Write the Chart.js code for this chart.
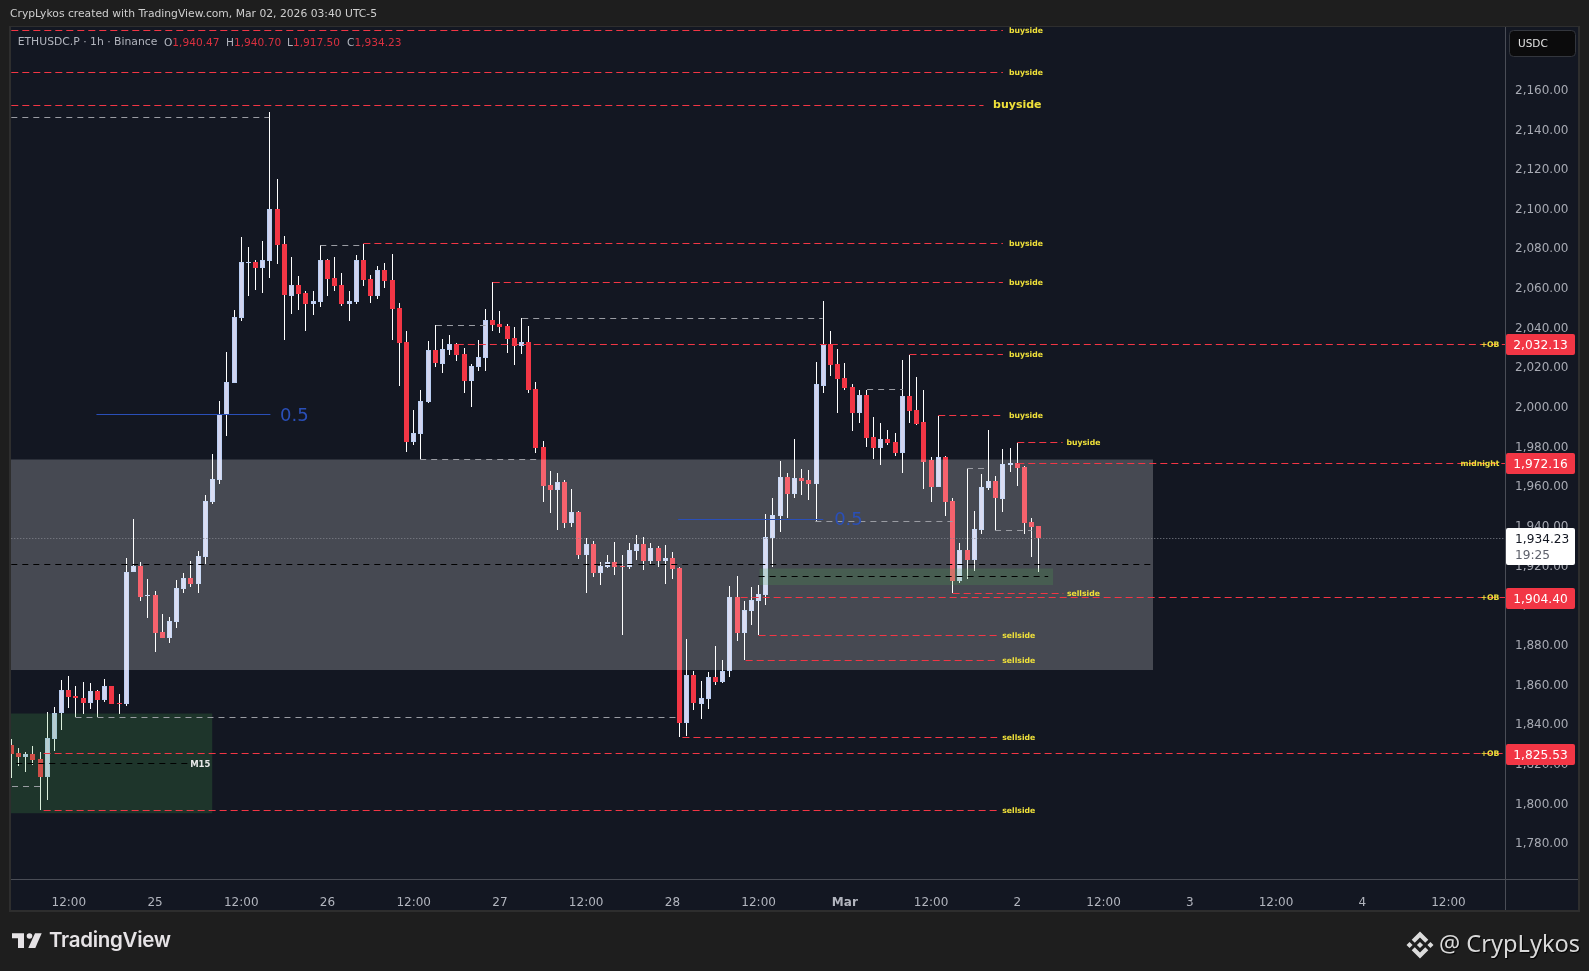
<!DOCTYPE html>
<html><head><meta charset="utf-8">
<style>
html,body{margin:0;padding:0;background:#1e1e1e;width:1589px;height:971px;overflow:hidden}
canvas{position:absolute;left:0;top:0}
.t{position:absolute;white-space:pre;font-family:"DejaVu Sans",sans-serif;line-height:1}
.lg{font-size:10.6px;top:37px}
.g{color:#b2b5be}.r{color:#d9303f}
svg{position:absolute;left:0;top:0}
</style>
<script src="https://cdn.jsdelivr.net/npm/chart.js@4/dist/chart.umd.min.js"></script>
</head><body>
<canvas id="c" width="1589" height="971"></canvas>
<svg width="1589" height="971" style="pointer-events:none">
<g fill="#e6e3e6"><polygon points="12,933.3 24,933.3 24,948 18,948 18,938.3 12,938.3"/><circle cx="29.5" cy="936" r="2.8"/><polygon points="35,933.3 41.7,933.3 35.3,948 28.3,948"/></g>
<g transform="translate(1406.5,931.5) scale(0.2132)" fill="#dcdcdc"><path d="M38.73 53.2l24.59-24.58 24.6 24.6 14.3-14.31L63.32 0 24.43 38.9zM0 63.31l14.3-14.31 14.31 14.31-14.31 14.3zM38.73 73.41l24.59 24.59 24.6-24.6 14.31 14.29-38.9 38.91-38.9-38.88zM98 63.31l14.3-14.31 14.31 14.3-14.31 14.3zM77.83 63.3L63.32 48.78 52.59 59.51l-1.24 1.23-2.54 2.54 14.51 14.5 14.51-14.47z"/></g>
</svg>
<div class="t" style="left:10px;top:9px;font-size:10.75px;color:#cfcfcf">CrypLykos created with TradingView.com, Mar 02, 2026 03:40 UTC-5</div>
<div class="t lg g" style="left:17.7px;font-size:10.8px">ETHUSDC.P · 1h · Binance</div>
<div class="t lg g" style="left:164px">O<span class="r">1,940.47</span></div>
<div class="t lg g" style="left:226px">H<span class="r">1,940.70</span></div>
<div class="t lg g" style="left:287px">L<span class="r">1,917.50</span></div>
<div class="t lg g" style="left:347px">C<span class="r">1,934.23</span></div>
<div class="t" style="left:49px;top:930px;font-family:Inter,sans-serif;font-weight:600;font-size:20.5px;letter-spacing:-0.3px;color:#e6e3e6">TradingView</div>
<div class="t" style="left:1439px;top:932px;font-family:'Noto Sans',sans-serif;font-size:23.6px;color:#d9d9d9;text-shadow:1px 1px 1px #000">@ CrypLykos</div>
<script>
// Candles: one per hour, index 0 = Feb 24 04:00 (hour -8 from Feb 24 12:00)
const firstHour = -8;
const open = [1830.0,1826.0,1824.0,1825.5,1823.0,1813.9,1833.1,1846.2,1857.8,1854.8,1853.7,1851.2,1857.3,1852.7,1859.8,1851.2,1850.7,1917.3,1920.3,1905.2,1905.7,1887.0,1884.0,1892.1,1908.7,1914.3,1911.2,1924.9,1952.6,1963.7,
1996.4,2012.6,2045.4,2073.1,2073.6,2070.6,2074.1,2100.3,2082.7,2056.5,2062.0,2058.0,2052.4,2053.4,2074.6,2065.5,2062.0,2052.4,2053.4,2074.6,2065.0,2056.5,2069.6,2064.5,2050.4,
2033.3,1982.9,1986.9,2003.0,2029.3,2022.2,2029.3,2032.3,2027.2,2013.6,2020.7,2025.2,2044.4,2042.4,2041.4,2035.3,2031.3,2033.3,2009.6,1980.3,1961.2,1958.7,1962.7,1942.0,1947.6,1925.9,1931.4,1916.8,1919.8,1922.3,1920.3,1919.8,1927.9,1931.4,1922.8,1929.4,1922.8,1924.4,
1919.3,1841.1,1865.4,1850.7,1853.3,1864.4,1861.8,1867.4,1904.7,1886.5,1897.6,1902.7,1905.7,1934.5,1945.5,1965.2,1956.6,1964.7,1963.7,1961.7,2011.1,2032.3,2022.2,2015.1,2010.6,1997.5,2006.5,1985.4,1979.8,1984.4,1982.8,1977.3,2006.0,1999.0,1992.9,1973.8,1960.2,1975.3,1953.1,1912.8,1928.4,1923.4,1938.5,1959.7,1963.2,1954.1,1971.3,1972.3,1970.2,1942.5,1940.47];
const high = [1833.1,1828.5,1826.5,1829.5,1826.5,1846.7,1849.2,1862.8,1864.8,1859.8,1861.8,1861.3,1857.8,1863.3,1859.8,1855.8,1924.4,1944.0,1922.3,1913.8,1907.7,1896.1,1894.6,1913.3,1916.8,1922.8,1927.9,1956.1,1976.8,2003.5,
2028.2,2049.4,2086.2,2081.2,2074.6,2084.2,2149.2,2115.5,2086.7,2076.1,2066.5,2059.0,2059.0,2082.2,2075.1,2076.1,2068.1,2059.0,2077.1,2082.7,2067.0,2071.6,2073.1,2077.6,2052.9,
2038.8,1999.0,2009.1,2033.8,2041.9,2034.8,2036.8,2032.8,2030.3,2022.2,2034.3,2049.9,2063.4,2048.9,2042.4,2040.9,2045.2,2041.4,2013.1,1983.4,1968.2,1967.2,1963.7,1959.2,1948.1,1934.4,1932.9,1922.3,1925.9,1932.4,1925.9,1931.9,1936.0,1934.9,1931.9,1930.4,1930.9,1927.4,
1919.8,1883.5,1867.4,1862.3,1866.9,1880.0,1872.9,1910.3,1915.3,1902.7,1909.7,1910.8,1946.5,1954.6,1973.3,1967.2,1984.4,1969.2,1968.8,2023.2,2054.0,2038.8,2029.7,2022.7,2012.1,2009.1,2009.1,1995.5,1992.4,1988.9,1987.4,2024.2,2026.7,2015.6,2009.1,1975.3,1996.0,1975.8,1954.6,1931.9,1969.2,1948.1,1966.7,1988.9,1965.7,1979.3,1979.8,1982.4,1970.8,1944.5,1940.70];
const low = [1813.4,1819.5,1816.4,1820.0,1797.3,1802.3,1827.0,1837.6,1848.7,1844.3,1845.7,1848.2,1844.2,1851.7,1850.7,1845.7,1849.7,1917.3,1902.7,1894.1,1877.0,1884.0,1881.5,1889.0,1906.7,1909.7,1906.7,1921.3,1951.6,1961.7,
1985.9,2012.6,2043.9,2056.5,2059.5,2058.0,2065.5,2072.6,2034.3,2047.4,2049.4,2038.8,2046.9,2050.9,2056.5,2059.0,2051.4,2043.9,2052.4,2061.5,2052.9,2055.0,2060.5,2034.3,2011.1,
1977.8,1981.3,1974.3,2002.5,2020.7,2017.7,2026.7,2023.7,2007.6,2000.5,2018.7,2018.7,2038.8,2037.8,2027.7,2021.7,2027.2,2007.6,1977.3,1952.6,1947.1,1938.5,1939.5,1940.0,1923.9,1906.7,1914.8,1910.7,1919.3,1915.8,1885.5,1918.8,1923.4,1918.3,1921.3,1919.8,1911.2,1913.8,
1834.1,1834.6,1847.7,1843.2,1848.2,1860.3,1861.3,1864.4,1882.5,1872.9,1890.6,1885.5,1900.7,1919.8,1937.5,1944.5,1954.6,1956.1,1953.6,1943.0,2007.6,2016.1,1997.5,2009.1,1988.4,1992.4,1980.3,1974.3,1971.2,1981.3,1975.8,1967.2,1992.4,1991.4,1959.1,1952.6,1960.2,1945.5,1906.7,1911.8,1913.8,1917.8,1936.5,1958.6,1938.5,1947.6,1967.7,1960.7,1936.5,1924.9,1917.50];
const close = [1825.5,1824.0,1825.5,1822.5,1813.9,1833.6,1846.2,1857.8,1854.3,1853.7,1851.2,1857.3,1852.7,1859.8,1850.7,1850.7,1917.3,1920.3,1904.7,1905.7,1886.5,1884.0,1892.6,1909.2,1914.3,1911.2,1925.4,1953.1,1964.2,1997.0,
2013.1,2045.9,2073.6,2073.6,2070.6,2074.6,2100.3,2082.2,2057.0,2062.0,2057.5,2052.4,2053.9,2074.6,2065.0,2061.5,2052.4,2053.9,2074.6,2064.5,2056.5,2069.6,2064.0,2049.9,2032.8,
1982.9,1987.4,2003.5,2029.3,2022.7,2029.8,2032.3,2026.7,2013.6,2021.2,2025.7,2044.4,2041.9,2040.9,2034.8,2031.3,2033.3,2009.1,1979.8,1960.7,1958.7,1962.7,1942.0,1947.6,1925.9,1931.4,1916.8,1920.3,1922.3,1919.8,1919.8,1928.4,1931.4,1922.8,1929.4,1922.8,1924.4,1918.8,
1841.1,1865.4,1851.2,1853.8,1864.4,1861.8,1867.4,1904.7,1886.5,1898.1,1903.2,1906.2,1935.0,1946.0,1965.2,1956.6,1964.7,1963.2,1961.7,2012.1,2031.8,2021.7,2014.6,2010.1,1997.5,2006.5,1984.9,1979.8,1984.4,1982.3,1977.3,2006.0,1998.5,1991.9,1972.8,1960.2,1975.3,1952.6,1912.8,1928.4,1923.4,1939.0,1960.2,1963.2,1954.6,1971.8,1972.3,1969.7,1942.0,1940.0,1934.23];

// Axes
const xTickHours = [0,12,24,36,48,60,72,84,96,108,120,132,144,156,168,180,192];
const xTickLabels = ["12:00","25","12:00","26","12:00","27","12:00","28","12:00","Mar","12:00","2","12:00","3","12:00","4","12:00"];
const yTickValues = [1780,1800,1820,1840,1860,1880,1900,1920,1940,1960,1980,2000,2020,2040,2060,2080,2100,2120,2140,2160,2180];

// Levels: [price, fromHour, toHour]
const redLevels = [[2190.6,-8,130],[2169.3,-8,130],[2152.7,-8,127.3],[2083.0,41,130],[2063.4,59,130],[2032.13,54,200],[2027.1,117,130],[1996.3,121,130],[1982.7,132,138.3],[1972.16,132,200],[1906.6,123,138.4],[1904.40,93.5,200],[1885.4,96,129.2],[1872.8,94.2,129.2],[1833.9,85.4,129.2],[1825.53,-3.5,200],[1797.1,-3.5,129.2]];
const greyLevels = [[2146.3,-8,27.9],[2082.2,35,40.6],[2045.2,63.1,104.9],[2041.7,51.1,58],[2009.4,111.1,116.1],[1974.2,48.9,65.6],[1969.6,125,128],[1942.9,103.9,123],[1938.3,128.9,134],[1844.0,0.93,84.7],[1809.2,-7.9,-3.9]];
const blackLevels = [[1921.2,-8,150.6],[1915.1,96,136.3],[1820.8,-7.3,16.9]];
const blueLevels = [[1996.5,3.85,28.06],[1943.9,84.8,105]];
const lastPriceLine = [[1934.23,-8,200]];

// Boxes: [topPrice, bottomPrice, fromHour, toHour]
const greyZones = [[1973.8,1867.9,-8.1,150.9]];
const greenZones = [[1845.7,1795.6,-8.1,20],[1919.3,1910.7,96.1,137]];

// Labels beside the levels
const smallLabels = [["buyside",133.2,2190.6],["buyside",133.2,2169.3],["buyside",133.2,2083.0],["buyside",133.2,2063.4],["buyside",133.2,2027.1],["buyside",133.2,1996.3],["buyside",141.2,1982.7],["sellside",141.2,1906.6],["sellside",132.2,1885.4],["sellside",132.2,1872.8],["sellside",132.2,1833.9],["sellside",132.2,1797.1]];
const bigLabels = [["buyside",132,2152.7]];
const sideLabels = [["+OB",2032.13],["midnight",1972.16],["+OB",1904.40],["+OB",1825.53]];
const halfLabels = [["0.5",31.4,1996.5],["0.5",108.5,1943.9]];
const boxLabels = [["M15",18.3,1820.9]];
const priceTags = [2032.13,1972.16,1904.40,1825.53];
const lastPrice = 1934.23;
const countdown = "19:25";

const FONT = '"DejaVu Sans", sans-serif';
const fmt = v => v.toLocaleString('en-US',{minimumFractionDigits:2,maximumFractionDigits:2});
const hours = open.map((_,i)=>firstHour+i);
const BULL='#d1d4f0', BEAR='#f23645';

function lineSet(levels,color,dash,order){
  return levels.map(l=>({type:'line',order,data:[{x:l[1],y:l[0]},{x:l[2],y:l[0]}],borderColor:color,borderWidth:1,borderDash:dash,pointRadius:0,fill:false,tension:0}));
}
function zoneSet(zones,color,order){
  return zones.map(z=>({type:'line',order,data:[{x:z[2],y:z[0]},{x:z[3],y:z[0]}],borderWidth:0,borderColor:'rgba(0,0,0,0)',backgroundColor:color,pointRadius:0,fill:{value:z[1]},tension:0}));
}

const datasets = [
 {type:'bar',order:20,grouped:false,barThickness:1,backgroundColor:'#ffffff',borderWidth:0,inflateAmount:0,
  data:hours.map((x,i)=>({x,y:[low[i],high[i]]}))},
 {type:'bar',order:19,grouped:false,barThickness:5,inflateAmount:0,borderWidth:1,borderSkipped:false,
  backgroundColor:close.map((c,i)=>c>=open[i]?BULL:BEAR),
  borderColor:close.map((c,i)=>c>=open[i]?'#b9cdf2':BEAR),
  data:hours.map((x,i)=>({x,y:[open[i],close[i]]}))},
 ...zoneSet(greyZones,'rgba(255,255,255,0.22)',18),
 ...zoneSet(greenZones,'rgba(76,175,80,0.2)',17),
 ...lineSet(redLevels,'#f23645',[7,4],5),
 ...lineSet(greyLevels,'#9a9ca3',[6,5],5),
 ...lineSet(blackLevels,'#000000',[6,5],4),
 ...lineSet(blueLevels,'#2a4fb8',[],4),
 ...lineSet(lastPriceLine,'#83868f',[1,2],3)
];

const snap = {id:'snap',afterDatasetsUpdate(chart){
  chart.getSortedVisibleDatasetMetas().forEach(m=>{
    m.data.forEach(el=>{
      if(m.type==='bar'){
        el.x=Math.floor(el.x)+0.5;
        let a=Math.round(Math.min(el.y,el.base)),b=Math.round(Math.max(el.y,el.base));
        if(b-a<1)b=a+1;
        el.y=a;el.base=b;el.height=b-a;
      } else { el.y=Math.floor(el.y)+0.5; }
    });
  });
}};

const pane = {id:'pane',
 beforeDraw(chart){
  const c=chart.ctx;
  c.save();
  c.fillStyle='#1e1e1e';c.fillRect(0,0,1589,971);
  c.fillStyle='#2e2e2e';c.fillRect(9,26,1571,886);
  c.fillStyle='#131722';c.fillRect(11,27,1567,883);
  c.restore();
 },
 afterDraw(chart){
  const c=chart.ctx,y=chart.scales.y,x=chart.scales.x;
  c.save();
  // axis frames
  c.fillStyle='#4a4d56';
  c.fillRect(11,879,1567,1);
  c.fillRect(1505,27,1,883);
  c.textBaseline='middle';
  // level labels
  c.fillStyle='#efe03a';c.textAlign='center';
  c.font='bold 7.7px '+FONT;
  smallLabels.forEach(l=>c.fillText(l[0],x.getPixelForValue(l[1]),y.getPixelForValue(l[2])+0.5));
  sideLabels.forEach(l=>{c.textAlign='right';c.fillText(l[0],x.getPixelForValue(199.1),y.getPixelForValue(l[1])+0.5);});
  c.textAlign='center';
  c.font='bold 11px '+FONT;
  bigLabels.forEach(l=>c.fillText(l[0],x.getPixelForValue(l[1]),y.getPixelForValue(l[2])));
  c.fillStyle='#2a4fb8';c.font='18px '+FONT;
  halfLabels.forEach(l=>c.fillText(l[0],x.getPixelForValue(l[1]),y.getPixelForValue(l[2])+1));
  c.fillStyle='#e8e8e8';c.font='bold 8.5px '+FONT;
  boxLabels.forEach(l=>c.fillText(l[0],x.getPixelForValue(l[1]),y.getPixelForValue(l[2])+2));
  // USDC button
  c.fillStyle='#0b0b0c';c.strokeStyle='#33363d';c.lineWidth=1;
  c.beginPath();c.roundRect(1509.5,30.5,66,26,4);c.fill();c.stroke();
  c.fillStyle='#e4e4e4';c.font='10.5px '+FONT;c.textAlign='left';c.fillText('USDC',1518,44.5);
  // price tags
  priceTags.forEach(p=>{
    const py=Math.round(y.getPixelForValue(p));
    c.fillStyle='#f23645';c.beginPath();c.roundRect(1506,py-10,69,21,2);c.fill();
    c.fillStyle='#ffffff';c.font='12.2px '+FONT;c.textAlign='center';c.fillText(fmt(p),1540.5,py+1.5);
  });
  const ly=y.getPixelForValue(lastPrice);
  c.fillStyle='#ffffff';c.beginPath();c.roundRect(1506,ly-10.5,69,37,2);c.fill();
  c.textAlign='left';c.fillStyle='#131722';c.font='12.2px '+FONT;c.fillText(fmt(lastPrice),1515,ly+1);
  c.fillStyle='#5d606b';c.fillText(countdown,1515,ly+17.5);
  c.restore();
 }
};

new Chart(document.getElementById('c'),{
 type:'bar',
 data:{datasets},
 plugins:[snap,pane],
 options:{
  responsive:false,animation:false,events:[],devicePixelRatio:1,
  layout:{padding:{left:11,top:27,right:11,bottom:61}},
  plugins:{legend:{display:false},tooltip:{enabled:false},title:{display:false}},
  scales:{
   x:{type:'linear',position:'bottom',offset:false,min:-8.042,max:199.87,
      grid:{display:false},border:{display:false},
      afterBuildTicks(s){s.ticks=xTickHours.map(v=>({value:v}));},
      afterFit(s){s.height=31;},
      ticks:{autoSkip:false,maxRotation:0,minRotation:0,padding:9,color:'#b2b5be',
        callback:(v,i)=>xTickLabels[i],
        font:c=>({family:FONT,size:12,weight:xTickLabels[c.index]==='Mar'?'bold':'normal'})}},
   y:{type:'linear',position:'right',min:1762.49,max:2192.14,
      grid:{display:false},border:{display:false},
      afterBuildTicks(s){s.ticks=yTickValues.map(v=>({value:v}));},
      afterFit(s){s.width=73;},
      ticks:{autoSkip:false,padding:2,color:'#a7aab3',labelOffset:0,
        callback:v=>fmt(v),font:{family:FONT,size:12}}}
  }
 }
});
</script>
</body></html>
